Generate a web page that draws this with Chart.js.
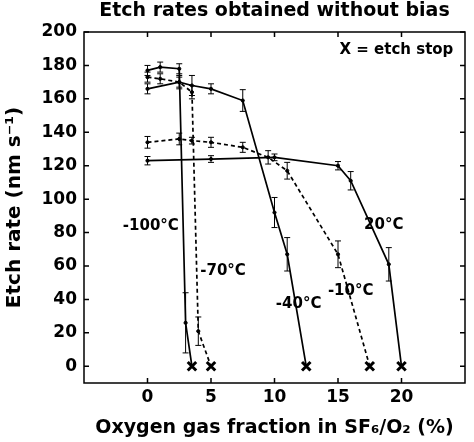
<!DOCTYPE html>
<html>
<head>
<meta charset="utf-8">
<script src="https://cdn.jsdelivr.net/npm/chart.js@4.4.1/dist/chart.umd.min.js"></script>
<style>
html, body { margin: 0; padding: 0; background: #fff; }
#wrap { width: 474px; height: 442px; }
</style>
</head>
<body>
<div id="wrap"><canvas id="etchChart"></canvas></div>
<script>
// series labels (temperature)
const seriesNames = ['-100°C', '-70°C', '-40°C', '-10°C', '20°C'];

// oxygen fraction (%) / etch rate (nm/s) / error, last point = etch stop
const oxygenM100 = [0, 1, 2.5, 3, 3.5];
const rateM100 = [177, 179, 178, 26, 0];
const errM100 = [3, 3, 3, 18, 0];

const oxygenM70 = [0, 1, 2.5, 3.5, 4, 5];
const rateM70 = [173, 172, 170, 164, 21, 0];
const errM70 = [3, 3, 3, 4, 8.5, 0];

const oxygenM40 = [0, 2.5, 3.5, 5, 7.5, 10, 11, 12.5];
const rateM40 = [166, 170, 168, 166, 159, 92, 67, 0];
const errM40 = [3, 4, 6, 3, 6.5, 9, 10, 0];

const oxygenM10 = [0, 2.5, 3.5, 5, 7.5, 9.5, 11, 15, 17.5];
const rateM10 = [134, 136, 135, 134, 131, 125, 117, 67, 0];
const errM10 = [3.5, 3.5, 2, 3, 3, 4, 5, 8, 0];

const oxygenP20 = [0, 5, 10, 15, 16, 19, 20];
const rateP20 = [123, 124, 125, 120, 111, 61, 0];
const errP20 = [2.5, 2, 2, 2.5, 5.5, 10, 0];

const xTicks = [0, 5, 10, 15, 20];
const yTicks = [0, 20, 40, 60, 80, 100, 120, 140, 160, 180, 200];

const allX = [oxygenM100, oxygenM70, oxygenM40, oxygenM10, oxygenP20];
const allY = [rateM100, rateM70, rateM40, rateM10, rateP20];
const allErr = [errM100, errM70, errM40, errM10, errP20];
const dashed = [false, true, false, true, false];

// text placed in data coordinates
const notes = [
    { text: '-100°C', x: 0.26, y: 84, size: 15 },
    { text: '-70°C', x: 5.95, y: 57, size: 15 },
    { text: '-40°C', x: 11.9, y: 37, size: 15 },
    { text: '-10°C', x: 16.0, y: 45, size: 15 },
    { text: '20°C', x: 18.6, y: 84.5, size: 15 },
    { text: 'X = etch stop', x: 19.6, y: 189, size: 15 }
];

Chart.defaults.font.family = '"DejaVu Sans", sans-serif';
Chart.defaults.font.weight = 'bold';
Chart.defaults.color = '#000';

const frame = {
    id: 'frame',
    afterDatasetsDraw(chart) {
        const ctx = chart.ctx;
        const a = chart.chartArea;
        const xs = chart.scales.x;
        const ys = chart.scales.y;
        ctx.save();
        ctx.strokeStyle = '#000';

        // error bars
        ctx.lineWidth = 1;
        allErr.forEach((errs, i) => {
            errs.forEach((e, j) => {
                if (!e) return;
                const px = xs.getPixelForValue(allX[i][j]);
                const y1 = ys.getPixelForValue(allY[i][j] - e);
                const y2 = ys.getPixelForValue(allY[i][j] + e);
                ctx.beginPath();
                ctx.moveTo(px, y1); ctx.lineTo(px, y2);
                ctx.moveTo(px - 3, y1); ctx.lineTo(px + 3, y1);
                ctx.moveTo(px - 3, y2); ctx.lineTo(px + 3, y2);
                ctx.stroke();
            });
        });

        // box and inward ticks
        ctx.lineWidth = 1.5;
        ctx.strokeRect(a.left, a.top, a.width, a.height);
        ctx.beginPath();
        xTicks.forEach(v => {
            const px = xs.getPixelForValue(v);
            ctx.moveTo(px, a.bottom); ctx.lineTo(px, a.bottom - 5);
            ctx.moveTo(px, a.top); ctx.lineTo(px, a.top + 5);
        });
        yTicks.forEach(v => {
            const py = ys.getPixelForValue(v);
            ctx.moveTo(a.left, py); ctx.lineTo(a.left + 5, py);
            ctx.moveTo(a.right, py); ctx.lineTo(a.right - 5, py);
        });
        ctx.stroke();

        // labels
        ctx.fillStyle = '#000';
        ctx.textAlign = 'center';
        ctx.textBaseline = 'middle';
        notes.forEach(n => {
            ctx.font = 'bold ' + n.size + 'px "DejaVu Sans", sans-serif';
            ctx.fillText(n.text, xs.getPixelForValue(n.x), ys.getPixelForValue(n.y));
        });
        ctx.restore();
    }
};

function buildDatasets() {
    return seriesNames.map((name, i) => ({
        label: name,
        data: allX[i].map((x, j) => ({ x: x, y: allY[i][j] })),
        showLine: true,
        borderColor: '#000',
        backgroundColor: '#000',
        borderWidth: 1.7,
        borderDash: dashed[i] ? [4, 3] : [],
        pointStyle: ctx => (ctx.raw && ctx.raw.y === 0) ? 'crossRot' : 'circle',
        pointRadius: ctx => (ctx.raw && ctx.raw.y === 0) ? 6 : 1.6,
        pointBorderWidth: ctx => (ctx.raw && ctx.raw.y === 0) ? 3 : 1,
        clip: false
    }));
}

new Chart(document.getElementById('etchChart'), {
    type: 'scatter',
    data: { datasets: buildDatasets() },
    options: {
        responsive: true,
        maintainAspectRatio: false,
        animation: false,
        layout: { padding: { left: 0, right: 4, top: 0, bottom: 0 } },
        plugins: {
            legend: { display: false },
            tooltip: { enabled: false },
            title: {
                display: true,
                text: 'Etch rates obtained without bias',
                fullSize: false,
                color: '#000',
                font: { size: 19, weight: 'bold' },
                padding: { top: 0, bottom: 9.2 }
            }
        },
        scales: {
            x: {
                type: 'linear',
                min: -5,
                max: 25,
                afterBuildTicks: s => { s.ticks = xTicks.map(v => ({ value: v })); },
                afterFit: s => { s.height = 59; },
                grid: { display: false, drawTicks: false },
                border: { display: false },
                ticks: { padding: 4, font: { size: 17, weight: 'bold' }, color: '#000' },
                title: {
                    display: true,
                    text: 'Oxygen gas fraction in SF₆/O₂ (%)',
                    color: '#000',
                    font: { size: 19, weight: 'bold' },
                    padding: { top: 0, bottom: 3 }
                }
            },
            y: {
                min: -10,
                max: 200,
                afterBuildTicks: s => { s.ticks = yTicks.map(v => ({ value: v })); },
                afterFit: s => { s.width = 84; },
                grid: { display: false, drawTicks: false },
                border: { display: false },
                ticks: { padding: 7, font: { size: 17, weight: 'bold' }, color: '#000' },
                title: {
                    display: true,
                    text: 'Etch rate (nm s⁻¹)',
                    color: '#000',
                    font: { size: 20, weight: 'bold' },
                    padding: { top: 3, bottom: 0 }
                }
            }
        }
    },
    plugins: [frame]
});
</script>
</body>
</html>
